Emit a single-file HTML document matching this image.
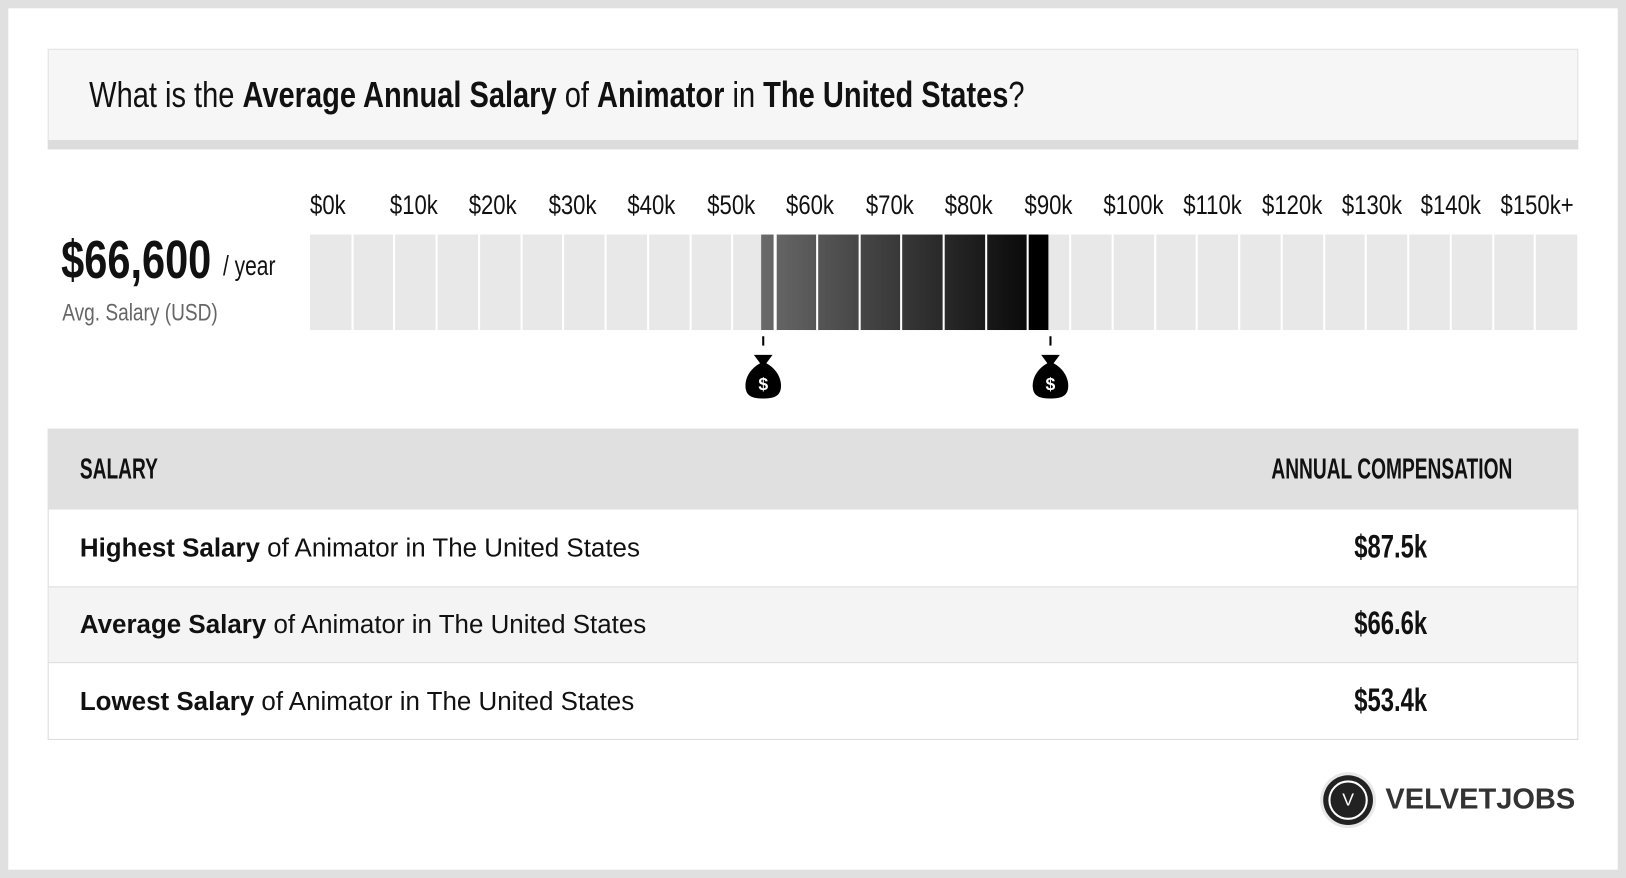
<!DOCTYPE html>
<html><head><meta charset="utf-8"><style>
*{margin:0;padding:0;box-sizing:border-box}
html,body{width:1626px;height:878px;overflow:hidden;background:#e0e0e0}
#w{position:absolute;left:0;top:0;width:1568px;height:846px;transform:scale(1.03699,1.0378);transform-origin:0 0}
.n{font-family:"Liberation Sans",sans-serif;transform-origin:0 0}
.a{position:absolute;white-space:nowrap}
</style></head><body><div id="w">
<div class="a" style="left:8px;top:8px;width:1552px;height:830px;background:#fff"></div>
<div class="a" style="left:46px;top:47px;width:1476px;height:89px;background:#f6f6f6;border:1px solid #e2e2e2"></div>
<div class="a" style="left:46px;top:135px;width:1476px;height:9px;background:#dcdcdc"></div>
<div class="a n" style="left:86px;top:72px;font-size:35px;color:#111;transform:scaleX(0.8)">What is the <b>Average Annual Salary</b> of <b>Animator</b> in <b>The United States</b>?</div>

<div class="a n" style="left:59px;top:221px;font-size:52px;font-weight:bold;color:#111;transform:scaleX(0.77)">$66,600</div>
<div class="a n" style="left:215px;top:241px;font-size:27px;color:#111;transform:scaleX(0.75)">/ year</div>
<div class="a n" style="left:60px;top:288px;font-size:23px;color:#666;transform:scaleX(0.8)">Avg. Salary (USD)</div>

<div id="labels"></div>
<div id="bar"></div>

<svg class="a" style="left:0;top:0" width="1568" height="846">
<g id="mk"></g>
</svg>

<div class="a" style="left:46px;top:413px;width:1476px;height:300px;border:1px solid #ddd;border-top:none"></div>
<div class="a" style="left:46px;top:413px;width:1476px;height:78px;background:#e0e0e0"></div>
<div class="a n" style="left:77px;top:436px;font-size:28px;font-weight:bold;color:#111;transform:scaleX(0.66)">SALARY</div>
<div class="a n" style="left:1226px;top:436px;font-size:28px;font-weight:bold;color:#111;transform:scaleX(0.66)">ANNUAL COMPENSATION</div>
<div class="a" style="left:47px;top:565px;width:1474px;height:74px;background:#f4f4f4;border-top:1px solid #ddd;border-bottom:1px solid #ddd"></div>
<div class="a" style="left:77px;top:514px;font:25px 'Liberation Sans',sans-serif;color:#111"><b>Highest Salary</b> of Animator in The United States</div>
<div class="a" style="left:77px;top:588px;font:25px 'Liberation Sans',sans-serif;color:#111"><b>Average Salary</b> of Animator in The United States</div>
<div class="a" style="left:77px;top:662px;font:25px 'Liberation Sans',sans-serif;color:#111"><b>Lowest Salary</b> of Animator in The United States</div>
<div class="a n" style="left:1306px;top:509px;font-size:31px;font-weight:bold;color:#111;transform:scaleX(0.74)">$87.5k</div>
<div class="a n" style="left:1306px;top:583px;font-size:31px;font-weight:bold;color:#111;transform:scaleX(0.74)">$66.6k</div>
<div class="a n" style="left:1306px;top:657px;font-size:31px;font-weight:bold;color:#111;transform:scaleX(0.74)">$53.4k</div>

<div class="a" style="left:1273px;top:744px;width:54px;height:54px;border-radius:50%;background:#e8e8e8"></div>
<div class="a" style="left:1276px;top:747px;width:48px;height:48px;border-radius:50%;background:#222"></div>
<div class="a" style="left:1281px;top:752px;width:38px;height:38px;border-radius:50%;border:2px solid #fff"></div>
<div class="a" style="left:1276px;top:761px;width:48px;text-align:center;font:17px 'Liberation Sans',sans-serif;color:#fff">V</div>
<div class="a" style="left:1336px;top:754px;font:bold 28px 'Liberation Sans',sans-serif;color:#333">VELVETJOBS</div>
</div>
<script>
var L=document.getElementById('labels'),h='';
var t=['$0k','$10k','$20k','$30k','$40k','$50k','$60k','$70k','$80k','$90k','$100k','$110k','$120k','$130k','$140k','$150k+'];
for(var i=0;i<16;i++)h+='<div class="a n" style="left:'+(299+i*76.5)+'px;top:182px;font-size:26px;color:#111;transform:scaleX(0.82)">'+t[i]+'</div>';
L.innerHTML=h;
var B=document.getElementById('bar'),s='';
s+='<div class="a" style="left:299px;top:226px;width:1222px;height:92px;background:#e8e8e8"></div>';
s+='<div class="a" style="left:734px;top:226px;width:277px;height:92px;background:linear-gradient(90deg,#6a6a6a,#0a0a0a 93%,#000 93%)"></div>';
var w=1222/30;
for(var k=1;k<30;k++)s+='<div class="a" style="left:'+(299+k*w-1)+'px;top:226px;width:2px;height:92px;background:#fff"></div>';
s+='<div class="a" style="left:746.5px;top:226px;width:2px;height:92px;background:#fff"></div>';
B.innerHTML=s;
function bag(x){return '<rect x="'+(x-1)+'" y="324" width="2" height="9" fill="#000"/>'+
'<path d="M'+(x-9)+' 342 L'+(x+9)+' 342 L'+(x+3)+' 350 C'+(x+14)+' 356 '+(x+18)+' 366 '+(x+17)+' 374 C'+(x+16)+' 382 '+(x+10)+' 384 '+x+' 384 C'+(x-10)+' 384 '+(x-16)+' 382 '+(x-17)+' 374 C'+(x-18)+' 366 '+(x-14)+' 356 '+(x-3)+' 350 Z" fill="#000"/>'+
'<text x="'+x+'" y="376" text-anchor="middle" font-family="Liberation Sans" font-weight="bold" font-size="17" fill="#fff">$</text>';}
document.getElementById('mk').innerHTML=bag(736)+bag(1013);
</script>
</body></html>
